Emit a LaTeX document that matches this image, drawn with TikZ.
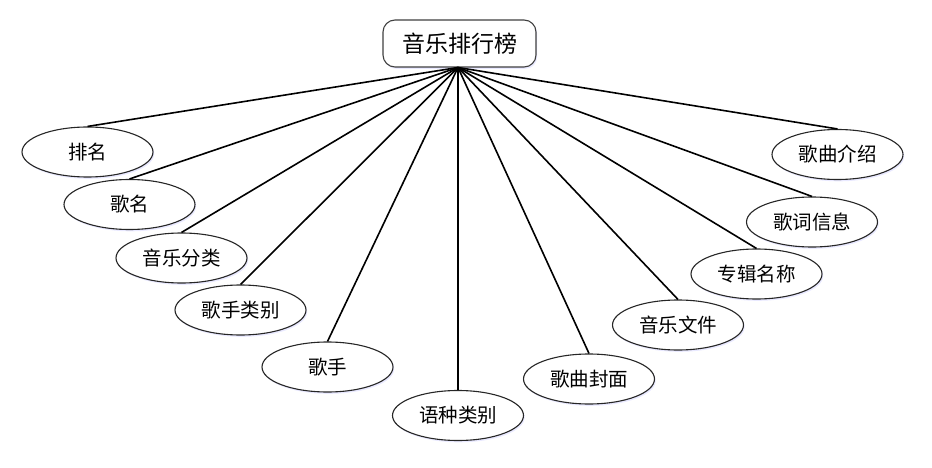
\documentclass[tikz,border=0pt]{standalone}
\usepackage{fontspec}
\setmainfont{Noto Sans CJK SC}
\usetikzlibrary{shapes.geometric,shadows}
\begin{document}
\begin{tikzpicture}[x=1pt,y=-1pt,
  attr/.style={ellipse,draw=black!85,line width=1.1pt,fill=white,minimum width=131pt,minimum height=50pt,inner sep=0pt,font=\fontsize{19.5}{20}\selectfont,
    drop shadow={shadow xshift=1.2pt,shadow yshift=-1.8pt,fill=blue!25,opacity=0.35}},
  rootbox/.style={rectangle,rounded corners=12pt,draw=black!75,line width=1.1pt,fill=white,minimum width=153pt,minimum height=47pt,inner sep=0pt,font=\fontsize{23}{24}\selectfont,
    drop shadow={shadow xshift=1.2pt,shadow yshift=-1.8pt,fill=blue!25,opacity=0.35}},
  link/.style={line width=1.6pt,black}]
\useasboundingbox (0,0) rectangle (932,468);
\node[rootbox] (root) at (459.5,43.5) {音乐排行榜};
\coordinate (hub) at (458,67.5);
\node[attr] (a1) at (87.5,152) {排名};
\node[attr] (a2) at (129.5,204.5) {歌名};
\node[attr] (a3) at (181.5,258) {音乐分类};
\node[attr] (a4) at (240.5,310) {歌手类别};
\node[attr] (a5) at (327.5,367) {歌手};
\node[attr] (a6) at (458,415.5) {语种类别};
\node[attr] (a7) at (589,379) {歌曲封面};
\node[attr] (a8) at (678,325) {音乐文件};
\node[attr] (a9) at (756.5,274) {专辑名称};
\node[attr] (a10) at (812,222) {歌词信息};
\node[attr] (a11) at (837.5,154.5) {歌曲介绍};
\foreach \i in {1,...,11} {\draw[link] (hub) -- (a\i.north);}
\end{tikzpicture}
\end{document}
